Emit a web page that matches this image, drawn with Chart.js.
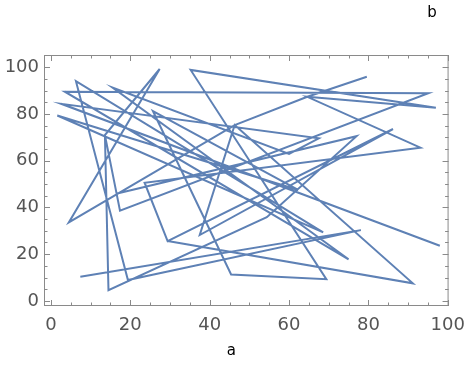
<!DOCTYPE html>
<html lang="en">
<head>
  <meta charset="UTF-8">
  <title>ListLinePlot a / b</title>
  <script src="https://cdn.jsdelivr.net/npm/chart.js"></script>
  <style>
    html, body { margin: 0; padding: 0; background: #fff; overflow: hidden; }
    #wrap { width: 474px; height: 367px; }
  </style>
</head>
<body>
  <div id="wrap"><canvas id="plot" width="474" height="367"></canvas></div>
  <script>
    // values, in drawing order (null = a break I could not trace)
    const xs = [98.0, 2.6, 67.5, 60.0, 15.5, 75.0, 3.5, 95.1, 17.4, 13.6, 27.4, 4.5, 46.3, 64.6, 79.6,
                null,
                7.4, 78.1, 19.4, 6.3, 68.6, 1.6, 62.3, 25.7, 45.4, 69.4, 35.2, 97.0, 64.6, 93.1, 23.6, 29.4, 86.2, 37.5, 46.3, 91.2, 29.4,
                null,
                13.6, 14.5, 54.4, 77.0, 16.7];
    const ys = [23.6, 84.4, 69.6, 62.9, 91.4, 17.8, 89.6, 88.9, 38.6, 71.0, 99.3, 33.6, 75.3, 87.4, 96.0,
                null,
                10.3, 30.3, 8.9, 94.1, 29.3, 79.4, 47.5, 81.3, 11.3, 9.3, 98.9, 82.7, 87.4, 65.6, 50.6, 25.6, 73.6, 28.2, 75.3, 7.5, 25.6,
                null,
                71.0, 4.6, 35.8, 70.5, 46.0];
    const tickValues = [0, 20, 40, 60, 80, 100];
    const minorStep = 5;
    const xTitle = 'a';
    const yTitle = 'b';

    // a null pair becomes a point with no y, so the line breaks there
    const points = xs.map((x, i) => (x === null ? { x: xs[i - 1], y: null } : { x: x, y: ys[i] }));

    // Mathematica style frame with inward ticks on all four sides
    const framePlugin = {
      id: 'frame',
      afterDraw(chart) {
        const { ctx, chartArea: a, scales } = chart;
        const sx = scales.x, sy = scales.y;
        ctx.save();
        ctx.strokeStyle = '#8a8a8a';
        ctx.lineWidth = 1;
        ctx.strokeRect(a.left + 0.5, a.top + 0.5, a.right - a.left - 1, a.bottom - a.top - 1);
        ctx.beginPath();
        for (let v = 0; v <= 100; v += minorStep) {
          const len = v % 20 === 0 ? 6 : 3.5;
          const px = Math.round(sx.getPixelForValue(v)) + 0.5;
          if (px >= a.left && px <= a.right) {
            ctx.moveTo(px, a.bottom); ctx.lineTo(px, a.bottom - len);
            ctx.moveTo(px, a.top); ctx.lineTo(px, a.top + len);
          }
          const py = Math.round(sy.getPixelForValue(v)) + 0.5;
          if (py >= a.top && py <= a.bottom) {
            ctx.moveTo(a.left, py); ctx.lineTo(a.left + len, py);
            ctx.moveTo(a.right, py); ctx.lineTo(a.right - len, py);
          }
        }
        ctx.stroke();
        ctx.fillStyle = '#000';
        ctx.font = '15px "DejaVu Sans", sans-serif';
        ctx.textAlign = 'center';
        ctx.textBaseline = 'middle';
        ctx.fillText(xTitle, (a.left + a.right) / 2 - 15, 351);
        ctx.fillText(yTitle, 432, 13);
        ctx.restore();
      }
    };

    const tickFont = { family: '"DejaVu Sans", sans-serif', size: 18 };

    new Chart(document.getElementById('plot'), {
      type: 'scatter',
      data: {
        datasets: [{
          data: points,
          showLine: true,
          spanGaps: false,
          borderColor: '#5e81b5',
          borderWidth: 2,
          pointRadius: 0,
          fill: false,
          tension: 0
        }]
      },
      options: {
        responsive: false,
        animation: false,
        layout: { padding: { top: 55, right: 22, left: 0, bottom: 0 } },
        plugins: { legend: { display: false }, tooltip: { enabled: false } },
        scales: {
          x: {
            type: 'linear',
            min: -1.75,
            max: 100.2,
            grid: { display: false, drawTicks: false },
            border: { display: false },
            afterBuildTicks: s => { s.ticks = tickValues.map(v => ({ value: v })); },
            afterFit: s => { s.height = 61; },
            ticks: { color: '#555', font: tickFont, padding: 9, maxRotation: 0 }
          },
          y: {
            type: 'linear',
            min: -2.2,
            max: 105.3,
            grid: { display: false, drawTicks: false },
            border: { display: false },
            afterBuildTicks: s => { s.ticks = tickValues.map(v => ({ value: v })); },
            afterFit: s => { s.width = 44; },
            ticks: { color: '#555', font: tickFont, padding: 5 }
          }
        }
      },
      plugins: [framePlugin]
    });
  </script>
</body>
</html>
